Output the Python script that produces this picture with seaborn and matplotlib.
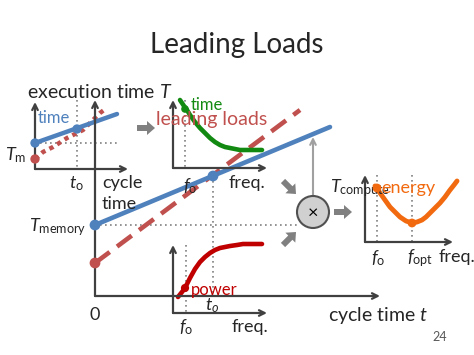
import matplotlib
matplotlib.use("Agg")
import matplotlib.pyplot as plt
import seaborn as sns
import pandas as pd
from matplotlib.patches import FancyArrow, Circle

# Kurvenpunkte (Pixelkoordinaten der Folie, y nach unten)
main_time_x = [95, 330]
main_time_y = [225, 127]
main_ll_x = [95, 300]
main_ll_y = [263, 110]

small_time_x = [35, 117]
small_time_y = [143, 114]
small_ll_x = [35, 43, 53, 67, 83, 90, 100, 104]
small_ll_y = [159, 152, 147, 138, 130, 123, 113, 110]

freq_time_x = [180, 184, 187, 190, 195, 200, 205, 210, 215, 220, 225, 230, 235, 240, 250, 262]
freq_time_y = [100, 106, 110, 115, 122, 128, 133, 138, 142, 145, 147, 148, 149, 150, 150, 150]

power_x = [178, 182, 185, 190, 195, 200, 205, 210, 215, 220, 225, 230, 237, 243, 252, 262]
power_y = [297, 292, 288, 278, 269, 262, 257, 253, 250, 248, 247, 246, 245, 244, 244, 244]

energy_x = [375, 377, 380, 385, 390, 395, 400, 406, 412, 417, 422, 426, 430, 435, 440, 445, 450, 454, 457]
energy_y = [186, 188, 193, 200, 207, 212, 217, 221, 223, 222, 220, 217, 213, 208, 203, 197, 190, 185, 181]

BLUE = "#4F81BD"
RED = "#C0504D"
GREEN = "#128A12"
ORANGE = "#F26A10"
DRED = "#C00000"
AX = "#404040"
GRAY = "#808080"

sns.set_style("white")
plt.rcParams["font.family"] = ["Lato", "DejaVu Sans"]
plt.rcParams["mathtext.fontset"] = "custom"
plt.rcParams["mathtext.rm"] = "Lato"
plt.rcParams["mathtext.it"] = "Lato:italic"

fig = plt.figure(figsize=(4.74, 3.55), dpi=100)
ax = fig.add_axes([0, 0, 1, 1])
ax.set_xlim(0, 474)
ax.set_ylim(355, 0)
ax.axis("off")


def arrow_axis(x0, y0, x1, y1):
    ax.annotate("", xy=(x1, y1), xytext=(x0, y0),
                arrowprops=dict(arrowstyle="->", color=AX, lw=1.6,
                                mutation_scale=10, shrinkA=0, shrinkB=0))


def dotted(xs, ys):
    ax.plot(xs, ys, color=GRAY, lw=1.2, ls=(0, (1, 2)))


def curve(xs, ys, color, lw, ls="-"):
    df = pd.DataFrame({"x": xs, "y": ys})
    sns.lineplot(data=df, x="x", y="y", ax=ax, color=color, lw=lw,
                 linestyle=ls, sort=False, estimator=None,
                 solid_capstyle="round", solid_joinstyle="round")


def dots(xs, ys, color, s=45):
    sns.scatterplot(x=xs, y=ys, ax=ax, color=color, s=s, edgecolor="none", zorder=5)


# Hauptdiagramm
dotted([95, 297], [225, 225])
dotted([213, 213], [176, 296])
arrow_axis(95, 296, 95, 100)
arrow_axis(95, 296, 380, 296)
curve(main_ll_x, main_ll_y, RED, 3.3, (0, (4, 2)))
curve(main_time_x, main_time_y, BLUE, 3.3)
dots([95, 213], [225, 176], BLUE, 60)
dots([95], [263], RED, 60)

# kleines Zeitdiagramm oben links
dotted([77, 77], [100, 169])
dotted([35, 117], [143, 143])
arrow_axis(35, 169, 35, 102)
arrow_axis(35, 169, 128, 169)
curve(small_ll_x, small_ll_y, RED, 3.2, (0, (1, 1)))
curve(small_time_x, small_time_y, BLUE, 3.2)
dots([35, 77], [143, 129], BLUE, 45)
dots([35], [159], RED, 45)

# Frequenzdiagramm oben
dotted([185, 185], [100, 168])
arrow_axis(173, 168, 173, 100)
arrow_axis(173, 168, 267, 168)
curve(freq_time_x, freq_time_y, GREEN, 3.3)
dots([185], [109], GREEN, 30)

# Leistungsdiagramm unten
dotted([186, 186], [245, 313])
arrow_axis(173, 313, 173, 245)
arrow_axis(173, 313, 267, 313)
curve(power_x, power_y, DRED, 3.3)
dots([185], [288], DRED, 35)

# Energiediagramm rechts
dotted([377, 377], [175, 242])
dotted([412, 412], [175, 242])
arrow_axis(365, 242, 365, 175)
arrow_axis(365, 242, 453, 242)
curve(energy_x, energy_y, ORANGE, 3.5)
dots([377, 412], [188, 223], ORANGE, 40)

# Blockpfeile
for x, y, dx, dy in [(137, 128, 18, 0), (283, 181, 13, 13),
                     (283, 245, 13, -13), (334, 212, 18, 0)]:
    ax.add_patch(FancyArrow(x, y, dx, dy, width=6, head_width=14,
                            head_length=8, length_includes_head=True,
                            color=GRAY, lw=0))

# Multiplikator
ax.annotate("", xy=(313, 137), xytext=(313, 196),
            arrowprops=dict(arrowstyle="->", color="#A0A0A0", lw=1.5,
                            mutation_scale=10, shrinkA=0, shrinkB=0))
ax.add_patch(Circle((313, 212), 16, facecolor="#D0D0D0", edgecolor="#505050", lw=1.5, zorder=6))
ax.text(313, 213, "×", ha="center", va="center", fontsize=13, color="black", zorder=7)

# Texte
ax.text(237, 45, "Leading Loads", ha="center", va="center", fontsize=20)
ax.text(100, 92, "execution time $T$", ha="center", va="center", fontsize=14)
ax.text(38, 118, "time", ha="left", va="center", fontsize=12, color=BLUE)
ax.text(16, 155, r"$T_{\mathrm{m}}$", ha="center", va="center", fontsize=13)
ax.text(77, 184, r"$t_{\mathrm{o}}$", ha="center", va="center", fontsize=13)
ax.text(102, 183, "cycle", ha="left", va="center", fontsize=13)
ax.text(102, 204, "time", ha="left", va="center", fontsize=13)
ax.text(191, 105, "time", ha="left", va="center", fontsize=12, color=GREEN)
ax.text(212, 120, "leading loads", ha="center", va="center", fontsize=14, color=RED)
ax.text(190, 186, r"$f_{\mathrm{o}}$", ha="center", va="center", fontsize=13)
ax.text(247, 183, "freq.", ha="center", va="center", fontsize=13)
ax.text(58, 227, r"$T_{\mathrm{memory}}$", ha="center", va="center", fontsize=13)
ax.text(95, 315, "0", ha="center", va="center", fontsize=13)
ax.text(378, 316, "cycle time $t$", ha="center", va="center", fontsize=14)
ax.text(212, 306, r"$t_o$", ha="center", va="center", fontsize=13)
ax.text(214, 290, "power", ha="center", va="center", fontsize=12, color=DRED)
ax.text(186, 327, r"$f_{\mathrm{o}}$", ha="center", va="center", fontsize=13)
ax.text(250, 327, "freq.", ha="center", va="center", fontsize=13)
ax.text(360, 188, r"$T_{\mathrm{compute}}$", ha="center", va="center", fontsize=13)
ax.text(408, 188, "energy", ha="center", va="center", fontsize=13, color=ORANGE)
ax.text(378, 258, r"$f_{\mathrm{o}}$", ha="center", va="center", fontsize=13)
ax.text(420, 258, r"$f_{\mathrm{opt}}$", ha="center", va="center", fontsize=13)
ax.text(457, 257, "freq.", ha="center", va="center", fontsize=13)
ax.text(440, 337, "24", ha="center", va="center", fontsize=9, color="#595959")

fig.savefig("out.png", dpi=100)
